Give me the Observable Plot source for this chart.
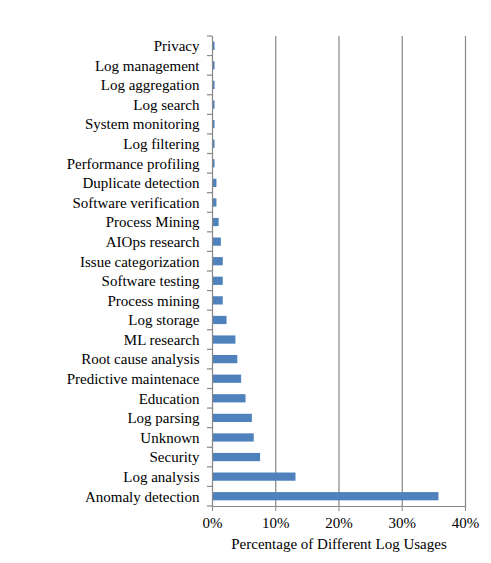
<!DOCTYPE html>
<html>
<head>
<meta charset="utf-8">
<script src="https://cdn.jsdelivr.net/npm/d3@7"></script>
<script src="https://cdn.jsdelivr.net/npm/@observablehq/plot@0.6"></script>
<style>
  body { margin: 0; background: white; }
</style>
</head>
<body>
<div id="chart"></div>
<script>
// Categories from top to bottom, as in the figure.
const usages = [
  "Privacy", "Log management", "Log aggregation", "Log search", "System monitoring",
  "Log filtering", "Performance profiling", "Duplicate detection", "Software verification",
  "Process Mining", "AIOps research", "Issue categorization", "Software testing",
  "Process mining", "Log storage", "ML research", "Root cause analysis",
  "Predictive maintenace", "Education", "Log parsing", "Unknown", "Security",
  "Log analysis", "Anomaly detection"
];
// Percentage of each usage.
const shares = [
  0.4, 0.4, 0.4, 0.4, 0.4,
  0.4, 0.4, 0.7, 0.7,
  1.05, 1.4, 1.7, 1.7,
  1.7, 2.3, 3.7, 4.0,
  4.6, 5.3, 6.3, 6.6, 7.6,
  13.2, 35.8
];
const xTicks = [0, 10, 20, 30, 40];

const data = usages.map((name, i) => ({name, value: shares[i]}));
const grey = "#878787";
const pct = d => d + "%";

const chart = Plot.plot({
  width: 491,
  height: 563,
  marginLeft: 212,
  marginRight: 26,
  marginTop: 36,
  marginBottom: 57,
  style: {fontFamily: "'Liberation Serif', 'Times New Roman', serif", fontSize: "15px", color: "black", background: "white"},
  x: {domain: [0, 40], ticks: xTicks, tickFormat: pct},
  y: {domain: usages, paddingInner: 0.58, paddingOuter: 0.29, round: false},
  marks: [
    Plot.gridX(xTicks.slice(1), {stroke: grey, strokeOpacity: 1, strokeWidth: 1.2}),
    Plot.barX(data, {x: "value", y: "name", fill: "#4F81BD"}),
    Plot.frame({anchor: "left", stroke: grey, strokeWidth: 1.2}),
    Plot.frame({anchor: "bottom", stroke: grey, strokeWidth: 1.2}),
    Plot.axisX({
      ticks: xTicks, tickFormat: pct, tickSize: 5, tickPadding: 6, stroke: grey,
      label: "Percentage of Different Log Usages", labelAnchor: "center",
      labelArrow: "none", labelOffset: 42
    }),
    Plot.axisY({tickSize: 0, tickPadding: 13, label: null})
  ]
});

// Small tick marks on the category axis sit between the bands, as in Excel.
const y = chart.scale("y");
const x0 = chart.scale("x").apply(0);
const bounds = usages.map(d => y.apply(d) - (y.step - y.bandwidth) / 2);
bounds.push(bounds[bounds.length - 1] + y.step);
d3.select(chart).append("g")
  .attr("stroke", grey)
  .attr("stroke-width", 1.2)
  .selectAll("line")
  .data(bounds)
  .join("line")
  .attr("x1", x0 - 5)
  .attr("x2", x0)
  .attr("y1", d => d)
  .attr("y2", d => d);

document.getElementById("chart").append(chart);
</script>
</body>
</html>
